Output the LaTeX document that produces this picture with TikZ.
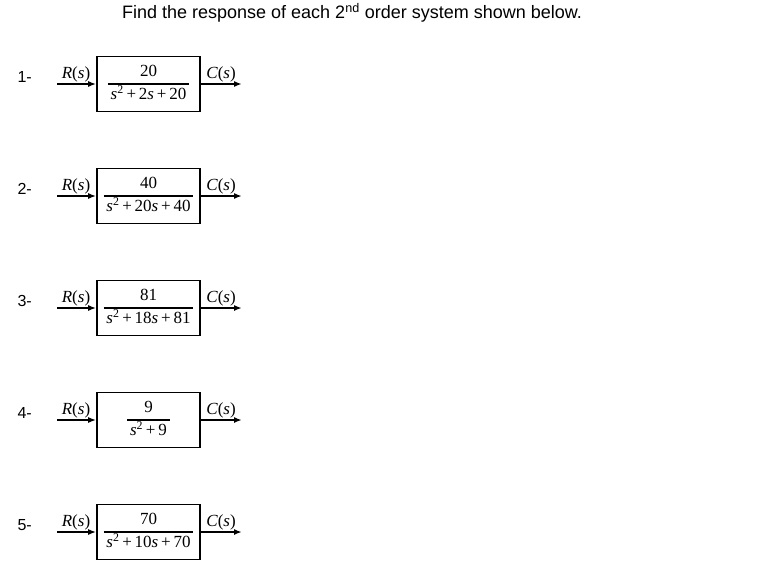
\documentclass[tikz,border=0pt]{standalone}
\usepackage{fontspec}
\usetikzlibrary{arrows.meta}
\setmainfont{Liberation Serif}
\setsansfont{Liberation Sans}
\begin{document}
\begin{tikzpicture}[x=1pt,y=-1pt,
  blk/.style={draw,line width=1.6pt,minimum width=103pt,minimum height=55pt,inner sep=0pt},
  num/.style={font=\sffamily\fontsize{16}{18}\selectfont,anchor=west},
  sig/.style={font=\rmfamily\fontsize{17}{19}\selectfont},
  arr/.style={-{Latex[length=8pt,width=6pt]},line width=1.6pt}]
\useasboundingbox (0,0) rectangle (768,579);
\node[font=\sffamily\fontsize{18}{20}\selectfont] (title) at (352,13) {Find the response of each 2\textsuperscript{nd} order system shown below.};
\newcommand{\frc}[2]{\renewcommand{\arraystretch}{1.15}\setlength{\arrayrulewidth}{1.3pt}\begin{tabular}{@{\,}c@{\,}}#1\\\hline #2\end{tabular}}
\newcommand{\si}{\textit{s}}
\foreach \i/\y/\n/\d in {1/84/20/{\si\textsuperscript{2}\,+\,2\si\,+\,20},
  2/196/40/{\si\textsuperscript{2}\,+\,20\si\,+\,40},
  3/308/81/{\si\textsuperscript{2}\,+\,18\si\,+\,81},
  4/420/9/{\si\textsuperscript{2}\,+\,9},
  5/532/70/{\si\textsuperscript{2}\,+\,10\si\,+\,70}}{
  \node[num] (n\i) at (14,\y-7) {\i-};
  \coordinate (in\i) at (57,\y);
  \coordinate (out\i) at (242,\y);
  \node[blk] (b\i) at (148.5,\y) {};
  \node[sig] (f\i) at (b\i.center) {\frc{\n}{\d}};
  \draw[arr] (in\i) -- (b\i.west);
  \draw[arr] (b\i.east) -- (out\i);
  \node[sig,anchor=south,inner sep=1pt] (r\i) at (76,\y-1) {\textit{R}(\si)};
  \node[sig,anchor=south,inner sep=1pt] (c\i) at (221,\y-1) {\textit{C}(\si)};
}
\end{tikzpicture}
\end{document}
